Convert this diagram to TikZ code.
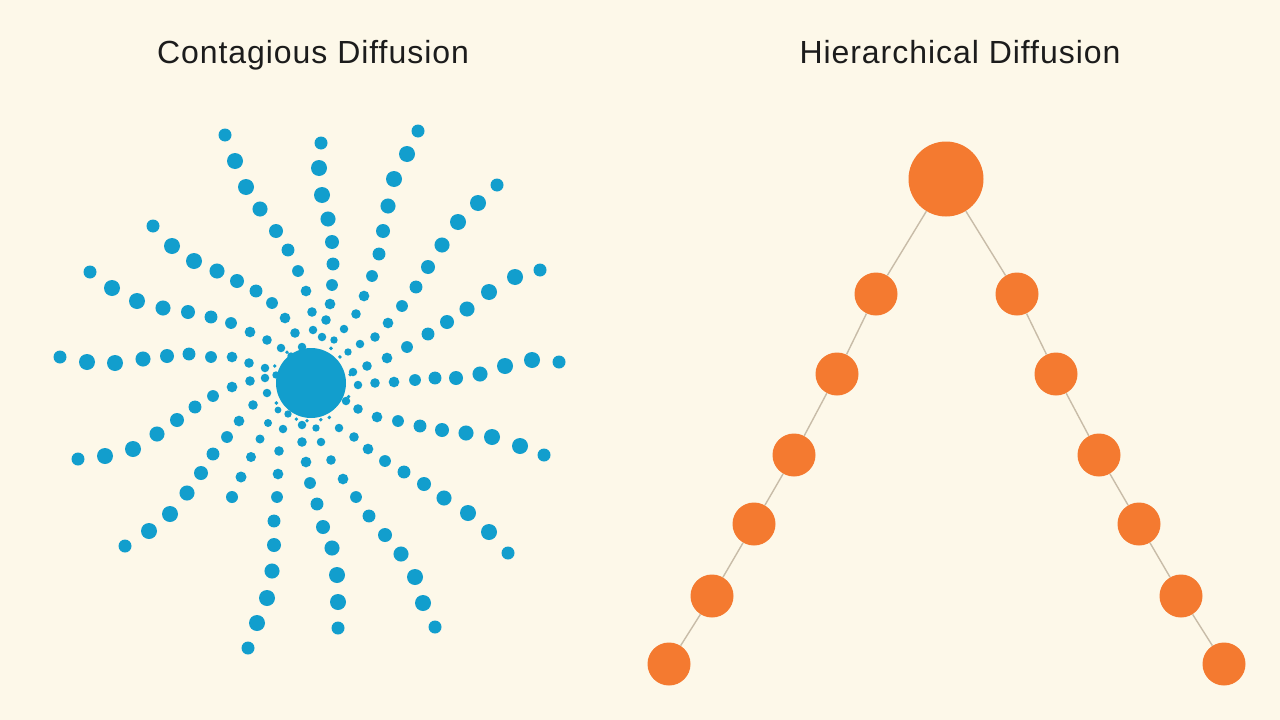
\documentclass[tikz,border=0pt]{standalone}
\usepackage{fontspec}
\setmainfont{Liberation Sans}
\definecolor{bg}{RGB}{253,248,233}
\definecolor{dotblue}{RGB}{18,158,205}
\definecolor{dotorange}{RGB}{244,122,48}
\definecolor{linktan}{RGB}{200,188,168}
\definecolor{titleink}{RGB}{28,28,28}
\tikzset{
  title/.style={anchor=base,text=titleink,font=\fontsize{32}{38}\selectfont\addfontfeature{LetterSpace=3}},
  bigball/.style={circle,fill=dotorange,inner sep=0pt,minimum size=75pt},
  ball/.style={circle,fill=dotorange,inner sep=0pt,minimum size=43pt},
  link/.style={draw=linktan,line width=1.4pt},
  bdot/.style={fill=dotblue}
}
\newcommand\dotray[1]{%
  \foreach \x/\y [count=\k] in {#1} {
    \pgfmathsetmacro\rr{\k==1 ? 6.5 : min(8,9.2-0.55*(\k-1))}
    \fill[bdot] (\x,\y) circle[radius=\rr];
  }%
}
\begin{document}
\begin{tikzpicture}[x=1pt,y=-1pt]
\useasboundingbox (0,0) rectangle (1280,720);
\fill[bg] (0,0) rectangle (1280,720);

% titles
\node[title] (t1) at (313,63) {Contagious Diffusion};
\node[title] (t2) at (960,63) {Hierarchical Diffusion};

% starburst rays (outer to inner)
\dotray{225/135,235/161,246/187,260/209,276/231,288/250,298/271,306/291,312/312,313/330}
\dotray{153/226,172/246,194/261,217/271,237/281,256/291,272/303,285/318,295/333,302/347}
\dotray{90/272,112/288,137/301,163/308,188/312,211/317,231/323,250/332,267/340,281/348,291/356}
\dotray{60/357,87/362,115/363,143/359,167/356,189/354,211/357,232/357,249/363,265/368,276/375}
\dotray{321/143,319/168,322/195,328/219,332/242,333/264,332/285,330/304,326/320,322/337}
\dotray{418/131,407/154,394/179,388/206,383/231,379/254,372/276,364/296,356/314,344/329,334/340}
\dotray{497/185,478/203,458/222,442/245,428/267,416/287,402/306,388/323,375/337,360/344,348/352}
\dotray{540/270,515/277,489/292,467/309,447/322,428/334,407/347,387/358,367/366,353/372}
\dotray{559/362,532/360,505/366,480/374,456/378,435/378,415/380,394/382,375/383,358/385}
\dotray{544/455,520/446,492/437,466/433,442/430,420/426,398/421,377/417,358/409,346/401}
\dotray{508/553,489/532,468/513,444/498,424/484,404/472,385/461,368/449,354/437,339/428}
\dotray{435/627,423/603,415/577,401/554,385/535,369/516,356/497,343/479,331/460,321/442,316/428}
\dotray{338/628,338/602,337/575,332/548,323/527,317/504,310/483,306/462,302/442,302/425}
\dotray{248/648,257/623,267/598,272/571,274/545,274/521,277/497,278/474,279/451,283/429,288/414}
\dotray{125/546,149/531,170/514,187/493,201/473,213/454,227/437,239/421,253/405,267/393}
\dotray{78/459,105/456,133/449,157/434,177/420,195/407,213/396,232/387,250/381,265/378}
% short ray
\foreach \x/\y/\rad in {232/497/6,241/477/5.5,251/457/5,260/439/4.5,268/423/4,278/410/3.4}{
  \fill[bdot] (\x,\y) circle[radius=\rad];
}
% a few tiny dots hugging the centre
\foreach \a/\d in {62/39,75/38,96/38,112/39,128/39,150/40,205/40,232/39,300/40,318/39,20/40,-12/40}{
  \fill[bdot] (311,383) ++(\a:\d) circle[radius=1.9];
}
% centre
\fill[bdot] (311,383) circle[radius=35];

% hierarchical tree
\node[bigball] (top) at (946,179) {};
\node[ball] (l1) at (876,294) {};
\node[ball] (l2) at (837,374) {};
\node[ball] (l3) at (794,455) {};
\node[ball] (l4) at (754,524) {};
\node[ball] (l5) at (712,596) {};
\node[ball] (l6) at (669,664) {};
\node[ball] (r1) at (1017,294) {};
\node[ball] (r2) at (1056,374) {};
\node[ball] (r3) at (1099,455) {};
\node[ball] (r4) at (1139,524) {};
\node[ball] (r5) at (1181,596) {};
\node[ball] (r6) at (1224,664) {};
\draw[link] (top) -- (l1) (l1) -- (l2) (l2) -- (l3) (l3) -- (l4) (l4) -- (l5) (l5) -- (l6);
\draw[link] (top) -- (r1) (r1) -- (r2) (r2) -- (r3) (r3) -- (r4) (r4) -- (r5) (r5) -- (r6);
\end{tikzpicture}
\end{document}
